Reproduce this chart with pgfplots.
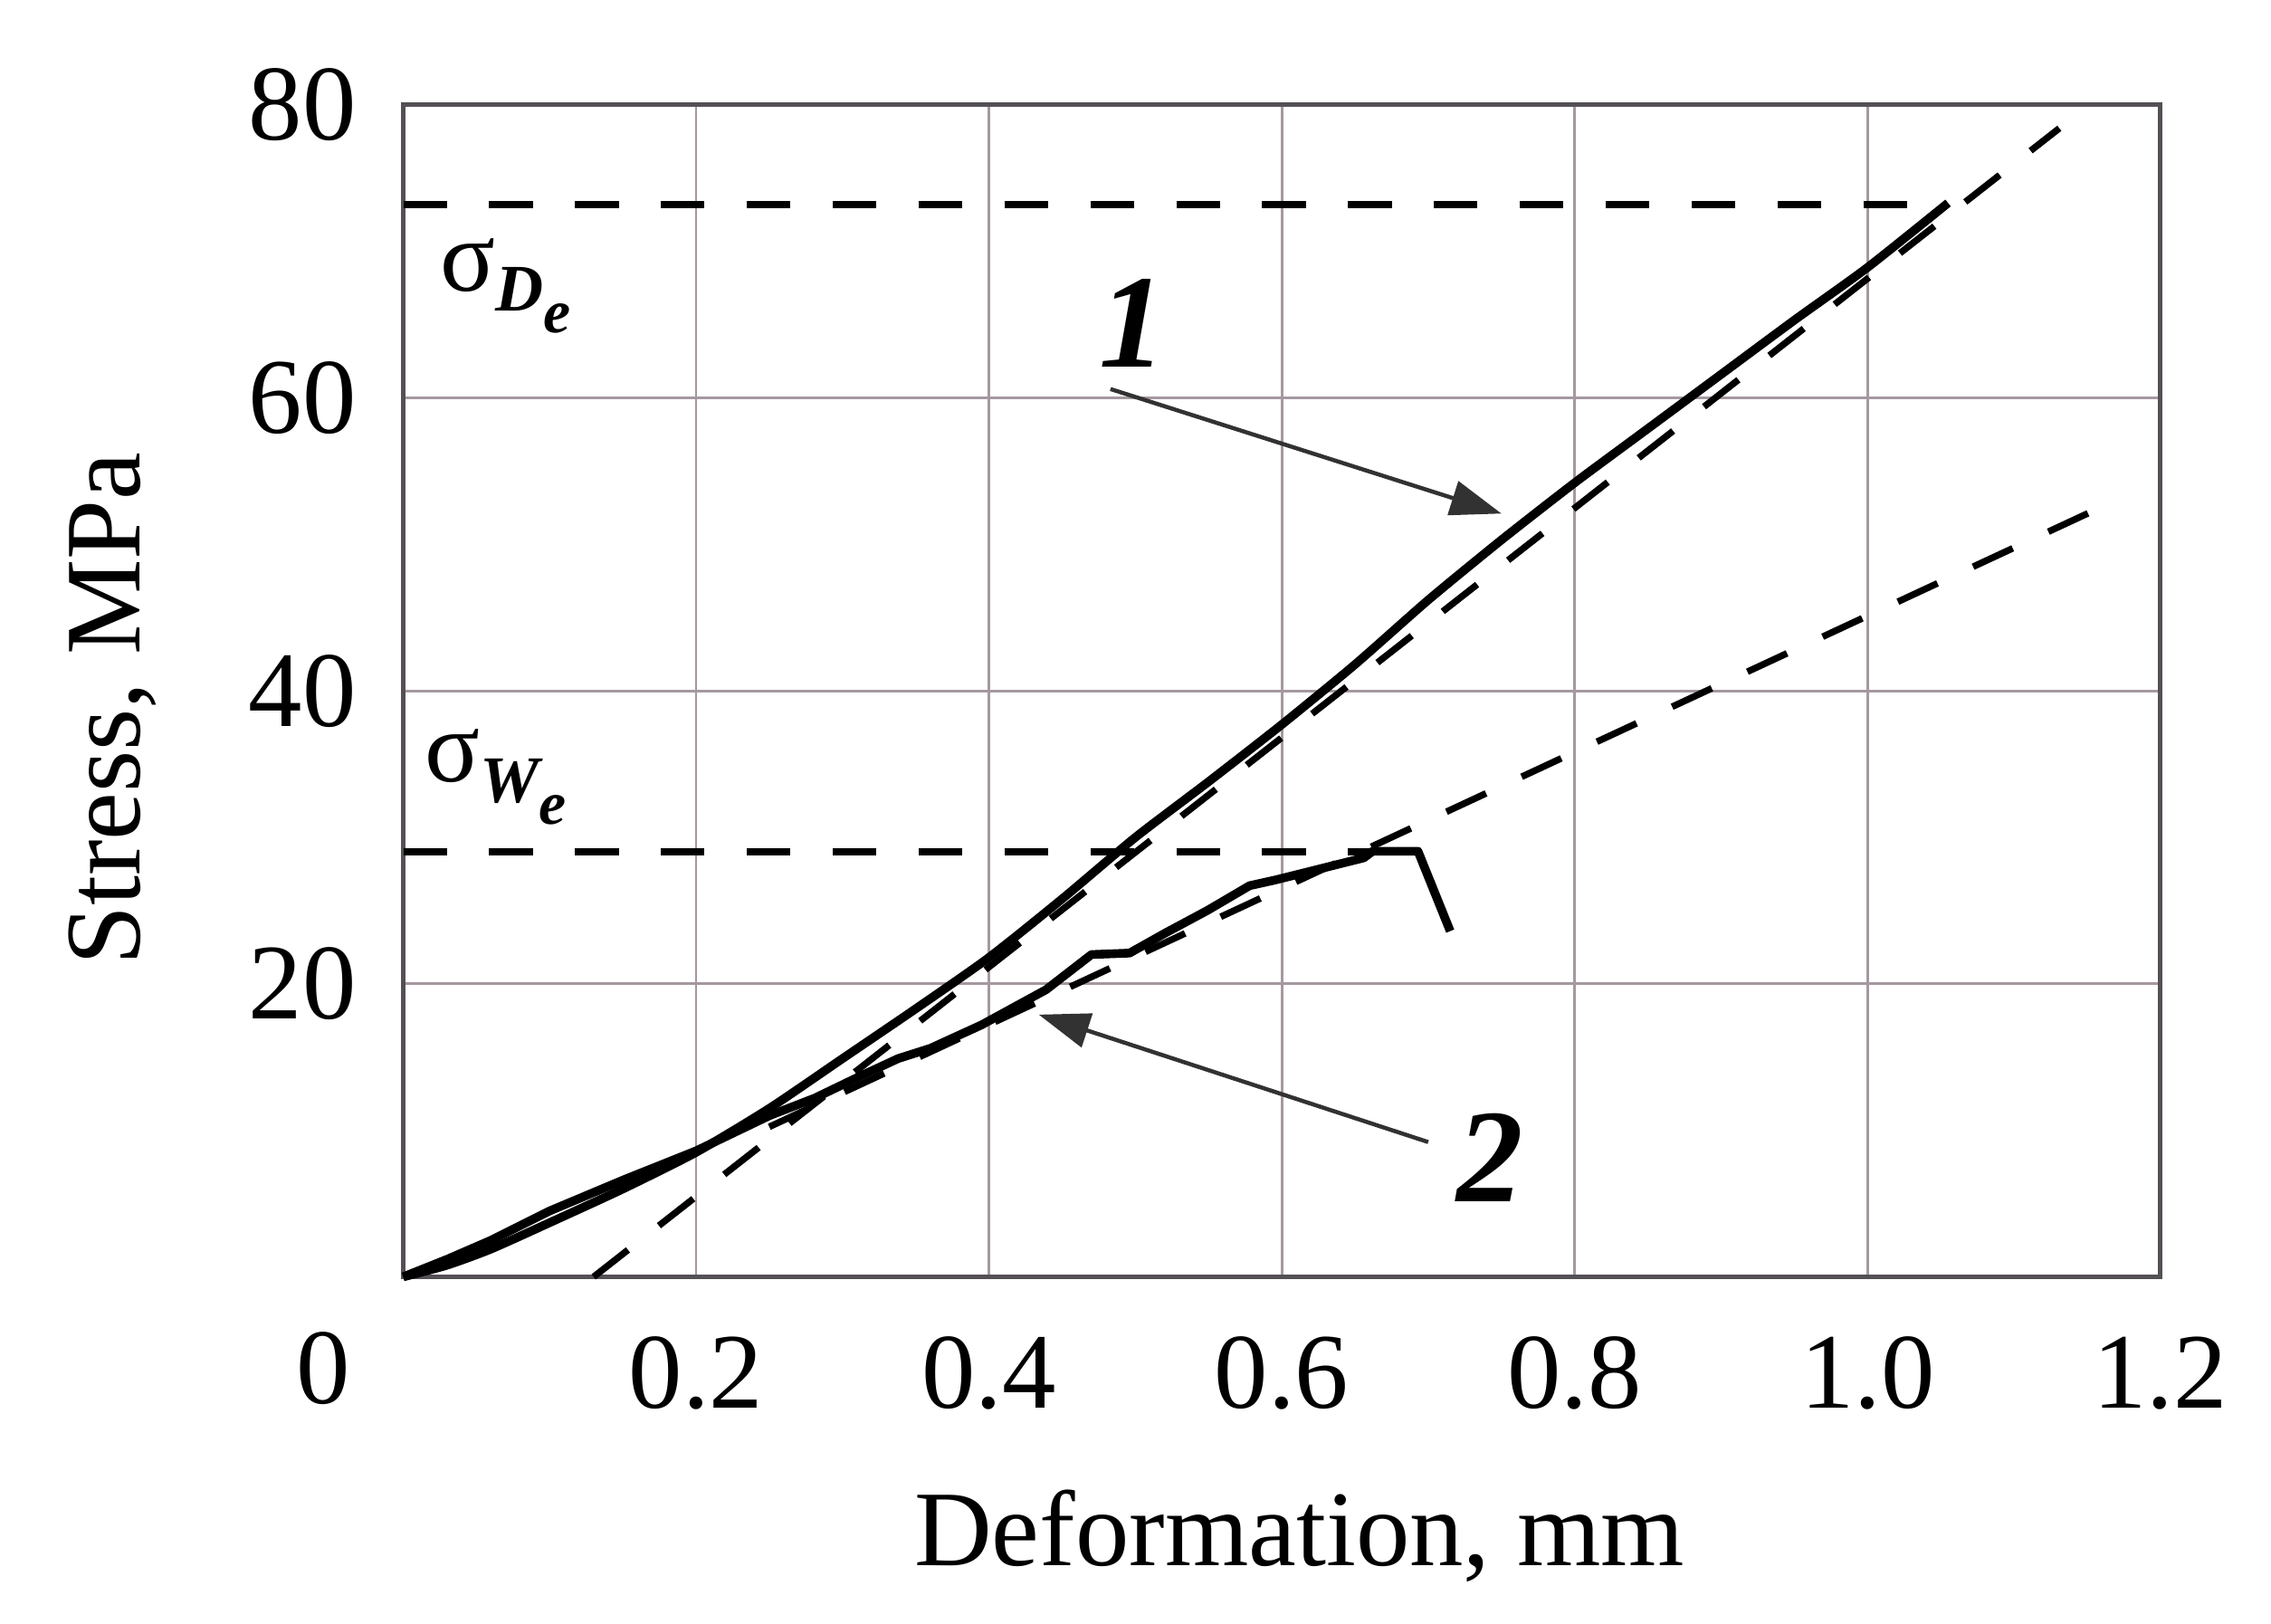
\documentclass[border=0pt]{standalone}
\usepackage{pgfplots}
\pgfplotsset{compat=1.18}
\usepackage{fontspec}
\setmainfont{Liberation Serif}
\usetikzlibrary{arrows.meta}
\definecolor{gridc}{RGB}{165,152,160}
\definecolor{framec}{RGB}{85,80,85}
\definecolor{arrc}{RGB}{50,50,50}
\begin{document}
\fontsize{21}{25}\selectfont
\begin{tikzpicture}
\useasboundingbox (-2.77cm,-2.38cm) rectangle (12.83cm,8.77cm);
\begin{axis}[
  at={(0,0)}, anchor=south west,
  scale only axis, width=12.07cm, height=8.05cm,
  xmin=0, xmax=1.2, ymin=0, ymax=80,
  xtick={0.2,0.4,0.6,0.8,1.0,1.2},
  xticklabels={0.2,0.4,0.6,0.8,1.0,1.2},
  ytick={20,40,60,80},
  yticklabels={20,40,60,\raisebox{-0.17cm}{80}},
  major tick length=0pt,
  grid=major,
  major grid style={gridc, line width=0.5pt},
  axis line style={framec, line width=0.9pt},
  /pgf/number format/assume math mode=true,
  tick label style={font=\fontsize{21}{25}\selectfont},
  xticklabel style={yshift=-0.16cm},
  yticklabel style={xshift=-0.07cm},
  every axis x label/.style={at={(axis description cs:0.510,-0.221)}, anchor=center},
  every axis y label/.style={at={(axis description cs:-0.1657,0.4845)}, rotate=90, anchor=center},
  xlabel={Deformation, mm},
  ylabel={Stress, MPa},
  label style={font=\fontsize{21}{25}\selectfont},
  clip=false,
]
% sigma_D horizontal dashed
\addplot[black, line width=1.5pt, dash pattern=on 0.3cm off 0.29cm] coordinates {(0,73.2) (1.05,73.2)};
% sigma_W horizontal dashed
\addplot[black, line width=1.5pt, dash pattern=on 0.3cm off 0.29cm] coordinates {(0,29.0) (0.685,29.0)};
% tangent line 1
\addplot[black, line width=1.3pt, dash pattern=on 0.3cm off 0.27cm] coordinates {(0.130,0) (1.131,78.4)};
% tangent line 2
\addplot[black, line width=1.3pt, dash pattern=on 0.3cm off 0.27cm] coordinates {(0.25,10.24) (1.171,53.07)};
% curve 1
\addplot[black, line width=1.7pt, smooth, tension=0.4, line join=round] coordinates {
(0,0) (0.03,0.8) (0.06,1.9) (0.10,3.7) (0.15,6.0) (0.20,8.5) (0.25,11.5)
(0.30,14.9) (0.35,18.3) (0.40,21.8) (0.45,25.8) (0.50,30.0) (0.55,33.8)
(0.60,37.7) (0.65,41.8) (0.70,46.2) (0.75,50.3) (0.80,54.2) (0.85,57.9)
(0.90,61.6) (0.95,65.3) (1.00,68.9) (1.055,73.3)};
% curve 2
\addplot[black, line width=1.7pt, line join=round] coordinates {
(0,0) (0.03,1.2) (0.06,2.5) (0.10,4.5) (0.15,6.6) (0.20,8.6) (0.25,11.0)
(0.281,12.2) (0.31,13.6) (0.338,14.9) (0.36,15.6) (0.395,17.2) (0.439,19.6) (0.47,22.0)
(0.496,22.1) (0.521,23.5) (0.549,25.0) (0.578,26.7) (0.596,27.1) (0.628,27.9)
(0.656,28.6) (0.662,29.05) (0.693,29.05) (0.715,23.6)};
% arrows
\draw[arrc, line width=0.8pt, -{Triangle[length=0.35cm,width=0.24cm]}] (axis cs:0.483,60.6) -- (axis cs:0.750,52.1);
\draw[arrc, line width=0.8pt, -{Triangle[length=0.35cm,width=0.24cm]}] (axis cs:0.700,9.2) -- (axis cs:0.434,17.9);
% curve numbers
\node[font=\fontsize{26}{30}\selectfont\bfseries\itshape] at (axis cs:0.498,65.1) {1};
\node[font=\fontsize{26}{30}\selectfont\bfseries\itshape] at (axis cs:0.742,8.15) {2};
% sigma labels
\node[anchor=base west, inner sep=0pt, xshift=0.25cm] at (axis cs:0,67.3)
  {\fontsize{20}{24}\selectfont σ\raisebox{-0.14cm}{\fontsize{13}{15}\selectfont\bfseries\itshape D\raisebox{-0.15cm}{\fontsize{12}{14}\selectfont e}}};
\node[anchor=base west, inner sep=0pt, xshift=0.14cm] at (axis cs:0,33.8)
  {\fontsize{20}{24}\selectfont σ\raisebox{-0.14cm}{\fontsize{13}{15}\selectfont\bfseries\itshape W\raisebox{-0.15cm}{\fontsize{12}{14}\selectfont e}}};
% origin label
\node[font=\fontsize{21}{25}\selectfont, xshift=-0.55cm, yshift=-0.63cm] at (axis cs:0,0) {0};
\end{axis}
\end{tikzpicture}
\end{document}
